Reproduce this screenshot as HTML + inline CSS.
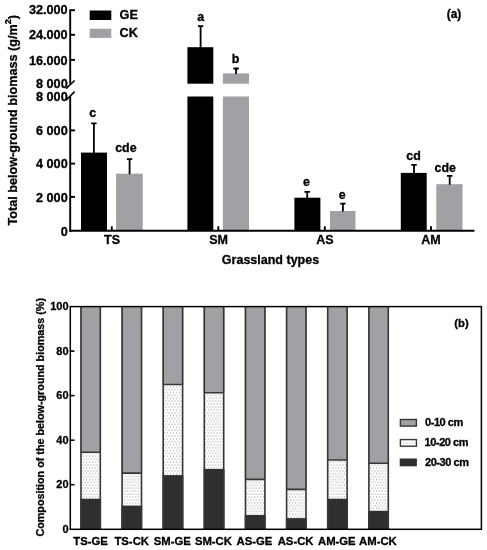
<!DOCTYPE html>
<html><head><meta charset="utf-8"><title>Below-ground biomass</title>
<style>html,body{margin:0;padding:0;background:#fff}svg{display:block}text{font-family:"Liberation Sans", Arial, sans-serif;font-weight:bold;fill:#000;stroke:#000;stroke-width:0.3px}</style>
</head><body>
<svg width="487" height="550" viewBox="0 0 487 550" style="filter:blur(0.35px)">
<defs><pattern id="dots" x="0" y="0" width="2.9" height="5.8" patternUnits="userSpaceOnUse"><rect width="2.9" height="5.8" fill="#fff"/><rect x="0.5" y="0.5" width="1" height="1" fill="#858585"/><rect x="1.95" y="3.4" width="1" height="1" fill="#858585"/></pattern></defs>
<rect width="487" height="550" fill="#fff"/>
<rect x="81.0" y="152.6" width="26.0" height="78.2" fill="#000"/>
<rect x="116.1" y="173.7" width="26.6" height="57.1" fill="#a1a1a5"/>
<rect x="187.4" y="47.2" width="25.9" height="183.6" fill="#000"/>
<rect x="222.9" y="73.4" width="26.1" height="157.4" fill="#a1a1a5"/>
<rect x="294.4" y="197.7" width="26.0" height="33.1" fill="#000"/>
<rect x="330.0" y="211.0" width="25.5" height="19.8" fill="#a1a1a5"/>
<rect x="400.8" y="172.9" width="25.9" height="57.9" fill="#000"/>
<rect x="436.3" y="184.2" width="26.2" height="46.6" fill="#a1a1a5"/>
<rect x="180" y="83.7" width="75" height="12.8" fill="#fff"/>
<path d="M93.9 153.1V123.1M91.2 123.3H96.6" stroke="#000" stroke-width="1.8" fill="none"/>
<path d="M129.6 174.2V159.0M126.9 159.2H132.3" stroke="#000" stroke-width="1.8" fill="none"/>
<path d="M200.6 47.7V25.9M197.9 26.1H203.3" stroke="#000" stroke-width="1.8" fill="none"/>
<path d="M236.1 73.9V68.3M233.4 68.5H238.8" stroke="#000" stroke-width="1.8" fill="none"/>
<path d="M307.2 198.2V191.6M304.5 191.8H309.9" stroke="#000" stroke-width="1.8" fill="none"/>
<path d="M342.9 211.5V203.4M340.2 203.6H345.6" stroke="#000" stroke-width="1.8" fill="none"/>
<path d="M414.0 173.4V164.7M411.3 164.9H416.7" stroke="#000" stroke-width="1.8" fill="none"/>
<path d="M449.7 184.7V175.7M447.0 175.9H452.4" stroke="#000" stroke-width="1.8" fill="none"/>
<g stroke="#000" stroke-width="1.9" fill="none">
<path d="M70.2 9.3V83.7M70.2 96.3V231.7"/>
<path d="M69.3 230.8H474.5"/>
<path d="M66 88.7L74.6 80.5M66 100.2L74.6 91.6" stroke-width="1.6"/>
<path d="M70.2 10.2H75"/>
<path d="M70.2 34.8H75"/>
<path d="M70.2 59.9H75"/>
<path d="M70.2 130.4H75"/>
<path d="M70.2 163.6H75"/>
<path d="M70.2 196.9H75"/>
<path d="M111.8 230.8V226.3"/>
<path d="M218.3 230.8V226.3"/>
<path d="M324.8 230.8V226.3"/>
<path d="M431.0 230.8V226.3"/>
</g>
<g font-size="12.7" text-anchor="end">
<text x="67.7" y="14.4">32.000</text>
<text x="67.7" y="39.3">24.000</text>
<text x="67.7" y="64.5">16.000</text>
<text x="67.7" y="87.8">8 000</text>
<text x="67.7" y="100.6">8 000</text>
<text x="67.7" y="135.0">6 000</text>
<text x="67.7" y="168.2">4 000</text>
<text x="67.7" y="201.5">2 000</text>
<text x="67.7" y="235.5">0</text>
</g>
<g font-size="12.5" text-anchor="middle">
<text x="112.0" y="244.4">TS</text>
<text x="218.5" y="244.4">SM</text>
<text x="325.0" y="244.4">AS</text>
<text x="431.0" y="244.4">AM</text>
<text x="270.5" y="264.2" font-size="12.5">Grassland types</text>
<text x="92.7" y="116.5" font-size="12.4">c</text>
<text x="125.9" y="152.3" font-size="12.4">cde</text>
<text x="200.6" y="20.6" font-size="12.4">a</text>
<text x="235.6" y="62.8" font-size="12.4">b</text>
<text x="306.4" y="185.8" font-size="12.4">e</text>
<text x="342.1" y="199.1" font-size="12.4">e</text>
<text x="413.5" y="159.6" font-size="12.4">cd</text>
<text x="445.2" y="171.5" font-size="12.4">cde</text>
</g>
<rect x="89.7" y="10.5" width="21.6" height="9.5" fill="#000"/>
<rect x="89.7" y="28.7" width="21.6" height="9.2" fill="#a1a1a5"/>
<text x="119.6" y="19.3" font-size="12.7">GE</text>
<text x="119.6" y="37.3" font-size="12.7">CK</text>
<text x="446.7" y="18" font-size="11.9">(a)</text>
<text transform="translate(16.8 225.5) rotate(-90)" font-size="12.6" textLength="210.5" lengthAdjust="spacingAndGlyphs">Total below-ground biomass (g/m<tspan font-size="9.2" dy="-5.8">2</tspan><tspan dy="5.8">)</tspan></text>
<rect x="80.2" y="306.6" width="20.9" height="145.6" fill="#a1a1a5"/>
<rect x="80.2" y="452.2" width="20.9" height="46.5" fill="url(#dots)"/>
<rect x="80.2" y="498.7" width="20.9" height="30.5" fill="#2f2f2f"/>
<path d="M81.0 306.6V529.2M100.3 306.6V529.2M80.2 452.2H101.1" stroke="#363636" stroke-width="1.6" fill="none"/>
<rect x="121.3" y="306.6" width="20.9" height="166.6" fill="#a1a1a5"/>
<rect x="121.3" y="473.1" width="20.9" height="32.5" fill="url(#dots)"/>
<rect x="121.3" y="505.6" width="20.9" height="23.6" fill="#2f2f2f"/>
<path d="M122.1 306.6V529.2M141.5 306.6V529.2M121.3 473.1H142.2" stroke="#363636" stroke-width="1.6" fill="none"/>
<rect x="162.5" y="306.6" width="20.9" height="77.9" fill="#a1a1a5"/>
<rect x="162.5" y="384.5" width="20.9" height="90.6" fill="url(#dots)"/>
<rect x="162.5" y="475.1" width="20.9" height="54.1" fill="#2f2f2f"/>
<path d="M163.2 306.6V529.2M182.6 306.6V529.2M162.5 384.5H183.4" stroke="#363636" stroke-width="1.6" fill="none"/>
<rect x="203.6" y="306.6" width="20.9" height="86.2" fill="#a1a1a5"/>
<rect x="203.6" y="392.7" width="20.9" height="76.2" fill="url(#dots)"/>
<rect x="203.6" y="468.9" width="20.9" height="60.4" fill="#2f2f2f"/>
<path d="M204.3 306.6V529.2M223.7 306.6V529.2M203.6 392.7H224.5" stroke="#363636" stroke-width="1.6" fill="none"/>
<rect x="244.7" y="306.6" width="20.9" height="172.8" fill="#a1a1a5"/>
<rect x="244.7" y="479.4" width="20.9" height="35.6" fill="url(#dots)"/>
<rect x="244.7" y="515.0" width="20.9" height="14.3" fill="#2f2f2f"/>
<path d="M245.5 306.6V529.2M264.9 306.6V529.2M244.7 479.4H265.6" stroke="#363636" stroke-width="1.6" fill="none"/>
<rect x="285.9" y="306.6" width="20.9" height="182.8" fill="#a1a1a5"/>
<rect x="285.9" y="489.4" width="20.9" height="28.7" fill="url(#dots)"/>
<rect x="285.9" y="518.1" width="20.9" height="11.1" fill="#2f2f2f"/>
<path d="M286.6 306.6V529.2M306.0 306.6V529.2M285.9 489.4H306.8" stroke="#363636" stroke-width="1.6" fill="none"/>
<rect x="327.0" y="306.6" width="20.9" height="153.4" fill="#a1a1a5"/>
<rect x="327.0" y="460.0" width="20.9" height="38.7" fill="url(#dots)"/>
<rect x="327.0" y="498.7" width="20.9" height="30.5" fill="#2f2f2f"/>
<path d="M327.7 306.6V529.2M347.1 306.6V529.2M327.0 460.0H347.9" stroke="#363636" stroke-width="1.6" fill="none"/>
<rect x="368.1" y="306.6" width="20.9" height="156.8" fill="#a1a1a5"/>
<rect x="368.1" y="463.3" width="20.9" height="47.4" fill="url(#dots)"/>
<rect x="368.1" y="510.8" width="20.9" height="18.5" fill="#2f2f2f"/>
<path d="M368.9 306.6V529.2M388.3 306.6V529.2M368.1 463.3H389.0" stroke="#363636" stroke-width="1.6" fill="none"/>
<rect x="70.3" y="306.6" width="411.1" height="222.7" fill="none" stroke="#000" stroke-width="1.5"/>
<g stroke="#000" stroke-width="1.6">
<path d="M70.3 484.7H74.5"/>
<path d="M70.3 440.2H74.5"/>
<path d="M70.3 395.6H74.5"/>
<path d="M70.3 351.1H74.5"/>
</g>
<g font-size="11" text-anchor="end">
<text x="68.6" y="532.8">0</text>
<text x="68.6" y="488.2">20</text>
<text x="68.6" y="443.7">40</text>
<text x="68.6" y="399.1">60</text>
<text x="68.6" y="354.6">80</text>
<text x="68.6" y="309.8">100</text>
</g>
<g font-size="11.3" text-anchor="middle">
<text x="90.6" y="545.1">TS-GE</text>
<text x="131.7" y="545.1">TS-CK</text>
<text x="172.3" y="545.1">SM-GE</text>
<text x="213.4" y="545.1">SM-CK</text>
<text x="254.5" y="545.1">AS-GE</text>
<text x="295.6" y="545.1">AS-CK</text>
<text x="336.8" y="545.1">AM-GE</text>
<text x="377.9" y="545.1">AM-CK</text>
</g>
<text x="454.3" y="327.2" font-size="11.3">(b)</text>
<rect x="400.4" y="419.5" width="16" height="6.6" fill="#a1a1a5" stroke="#363636" stroke-width="1.4"/>
<rect x="400.4" y="439.6" width="16" height="6.6" fill="#fff" stroke="#363636" stroke-width="1.4"/>
<rect x="403.3" y="442.5" width="1.1" height="1" fill="#adadad"/>
<rect x="406.2" y="442.5" width="1.1" height="1" fill="#adadad"/>
<rect x="409.1" y="442.5" width="1.1" height="1" fill="#adadad"/>
<rect x="412.0" y="442.5" width="1.1" height="1" fill="#adadad"/>
<rect x="399.7" y="458.5" width="17.2" height="7.8" fill="#2f2f2f"/>
<g font-size="11" letter-spacing="-0.45">
<text x="425" y="426.4">0-10 cm</text>
<text x="424.6" y="446.2">10-20 cm</text>
<text x="425" y="465.8">20-30 cm</text>
</g>
<text transform="translate(44.4 536.6) rotate(-90)" font-size="11.8" textLength="238.6" lengthAdjust="spacingAndGlyphs">Composition of the below-ground biomass (%)</text>
</svg></body></html>
